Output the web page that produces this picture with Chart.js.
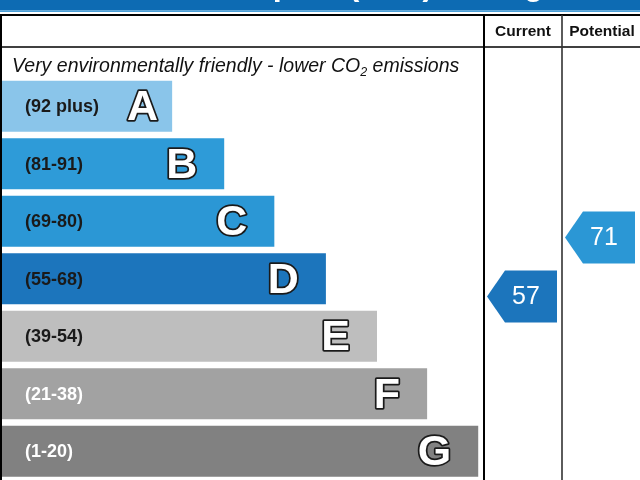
<!DOCTYPE html>
<html>
<head>
<meta charset="utf-8">
<script src="https://cdn.jsdelivr.net/npm/chart.js@4/dist/chart.umd.min.js"></script>
<style>
html,body{margin:0;padding:0;background:#fff;}
canvas{display:block;}
</style>
</head>
<body>
<canvas id="c" width="640" height="480"></canvas>
<script>
// ---- data ----
const categories = ['A', 'B', 'C', 'D', 'E', 'F', 'G'];
const bandLabels = ['(92 plus)', '(81-91)', '(69-80)', '(55-68)', '(39-54)', '(21-38)', '(1-20)'];
const bandLow = [92, 81, 69, 55, 39, 21, 1];
const bandHigh = [100, 91, 80, 68, 54, 38, 20];
const barLengths = [35.3, 46.1, 56.5, 67.2, 77.8, 88.2, 98.8];
const barColors = ['#8ac5ea', '#2e9bd8', '#2b97d5', '#1c75bc', '#bebebe', '#a2a2a2', '#818181'];
const labelColors = ['#1a1a1a', '#1a1a1a', '#1a1a1a', '#1a1a1a', '#1a1a1a', '#ffffff', '#ffffff'];
const columnHeaders = ['Current', 'Potential'];
const ratings = [57, 71];
const titleText = 'Environmental Impact (CO\u2082) Rating';
const subtitleParts = ['Very environmentally friendly - lower CO', '2', ' emissions'];

const FONT = '"Liberation Sans", Arial, sans-serif';

function bandOf(v) {
  for (let i = 0; i < bandLow.length; i++) {
    if (v >= bandLow[i] && v <= bandHigh[i]) return i;
  }
  return bandLow.length - 1;
}

const tablePlugin = {
  id: 'tablePlugin',
  beforeDraw(chart) {
    const ctx = chart.ctx;
    const area = chart.chartArea;
    const W = chart.width, H = chart.height;
    ctx.save();
    ctx.fillStyle = '#ffffff';
    ctx.fillRect(0, 0, W, H);
    // banner
    ctx.fillStyle = '#0d6bb3';
    ctx.fillRect(0, 0, W, 10.5);
    ctx.fillStyle = '#4a9fd8';
    ctx.fillRect(0, 10.5, W, 1.5);
    ctx.save();
    ctx.beginPath();
    ctx.rect(0, 0, W, 10.5);
    ctx.clip();
    ctx.fillStyle = '#ffffff';
    ctx.font = 'bold 32.5px ' + FONT;
    ctx.textAlign = 'left';
    ctx.textBaseline = 'alphabetic';
    ctx.fillText(titleText, 0, -5.5);
    ctx.restore();

    const colL = area.right;           // start of Current column
    const colM = colL + 78;            // start of Potential column
    // lines
    ctx.strokeStyle = '#000';
    ctx.lineWidth = 2;
    ctx.beginPath(); ctx.moveTo(0, 15); ctx.lineTo(W, 15); ctx.stroke();
    ctx.lineWidth = 1.6;
    ctx.beginPath(); ctx.moveTo(0, 47); ctx.lineTo(W, 47); ctx.stroke();
    ctx.lineWidth = 2;
    ctx.beginPath(); ctx.moveTo(1, 15); ctx.lineTo(1, H); ctx.stroke();
    ctx.beginPath(); ctx.moveTo(colL, 15); ctx.lineTo(colL, H); ctx.stroke();
    ctx.strokeStyle = '#333';
    ctx.lineWidth = 1.6;
    ctx.beginPath(); ctx.moveTo(colM, 15); ctx.lineTo(colM, H); ctx.stroke();

    // headers
    ctx.fillStyle = '#111';
    ctx.font = 'bold 15.5px ' + FONT;
    ctx.textAlign = 'center';
    ctx.textBaseline = 'middle';
    ctx.fillText(columnHeaders[0], (colL + colM) / 2, 32);
    ctx.fillText(columnHeaders[1], (colM + W) / 2 + 1, 32);

    // subtitle
    ctx.textAlign = 'left';
    ctx.textBaseline = 'alphabetic';
    ctx.font = 'italic 19.5px ' + FONT;
    let x = 12;
    const by = 72;
    ctx.fillText(subtitleParts[0], x, by);
    x += ctx.measureText(subtitleParts[0]).width;
    ctx.font = 'italic 12.5px ' + FONT;
    ctx.fillText(subtitleParts[1], x, by + 4);
    x += ctx.measureText(subtitleParts[1]).width;
    ctx.font = 'italic 19.5px ' + FONT;
    ctx.fillText(subtitleParts[2], x, by);
    ctx.restore();
  },
  afterDatasetsDraw(chart) {
    const ctx = chart.ctx;
    const area = chart.chartArea;
    const meta = chart.getDatasetMeta(0);
    ctx.save();
    meta.data.forEach((bar, i) => {
      // range label
      ctx.font = 'bold 18px ' + FONT;
      ctx.textAlign = 'left';
      ctx.textBaseline = 'middle';
      ctx.fillStyle = labelColors[i];
      const lx = bar.base + 23;
      ctx.fillText(bandLabels[i], lx, bar.y + 1);
      const labelRight = lx + ctx.measureText(bandLabels[i]).width;
      // letter
      ctx.font = 'bold 43px ' + FONT;
      ctx.textAlign = 'right';
      ctx.textBaseline = 'middle';
      const letterRight = Math.max(bar.x - 27, labelRight + 59);
      ctx.lineJoin = 'round';
      ctx.lineWidth = 3.5;
      ctx.strokeStyle = '#1a1a1a';
      ctx.strokeText(categories[i], letterRight, bar.y + 2);
      ctx.fillStyle = '#ffffff';
      ctx.fillText(categories[i], letterRight, bar.y + 2);
    });

    // rating arrows
    const colL = area.right;
    const cols = [[colL, colL + 78], [colL + 78, chart.width]];
    ratings.forEach((v, k) => {
      const i = bandOf(v);
      const bar = meta.data[i];
      const h = bar.height;
      const f = (v - bandLow[i]) / (bandHigh[i] - bandLow[i]);
      const y = bar.y + h / 2 - f * h;
      const left = cols[k][0] + 3;
      const right = cols[k][1] - 5;
      const half = 26;
      ctx.fillStyle = barColors[i];
      ctx.beginPath();
      ctx.moveTo(left, y);
      ctx.lineTo(left + 18, y - half);
      ctx.lineTo(right, y - half);
      ctx.lineTo(right, y + half);
      ctx.lineTo(left + 18, y + half);
      ctx.closePath();
      ctx.fill();
      ctx.fillStyle = '#ffffff';
      ctx.font = '25px ' + FONT;
      ctx.textAlign = 'center';
      ctx.textBaseline = 'middle';
      ctx.fillText(String(v), (left + right) / 2 + 4, y + 1);
    });
    ctx.restore();
  }
};

new Chart(document.getElementById('c'), {
  type: 'bar',
  data: {
    labels: categories,
    datasets: [{
      data: barLengths,
      backgroundColor: barColors,
      borderWidth: 0,
      barPercentage: 0.887,
      categoryPercentage: 1
    }]
  },
  options: {
    indexAxis: 'y',
    responsive: false,
    animation: false,
    events: [],
    layout: { padding: { top: 77.5, bottom: 0, left: 2, right: 156 } },
    plugins: { legend: { display: false }, tooltip: { enabled: false }, title: { display: false } },
    scales: {
      x: { type: 'linear', min: 0, max: 100, display: false },
      y: { display: false }
    }
  },
  plugins: [tablePlugin]
});
</script>
</body>
</html>
